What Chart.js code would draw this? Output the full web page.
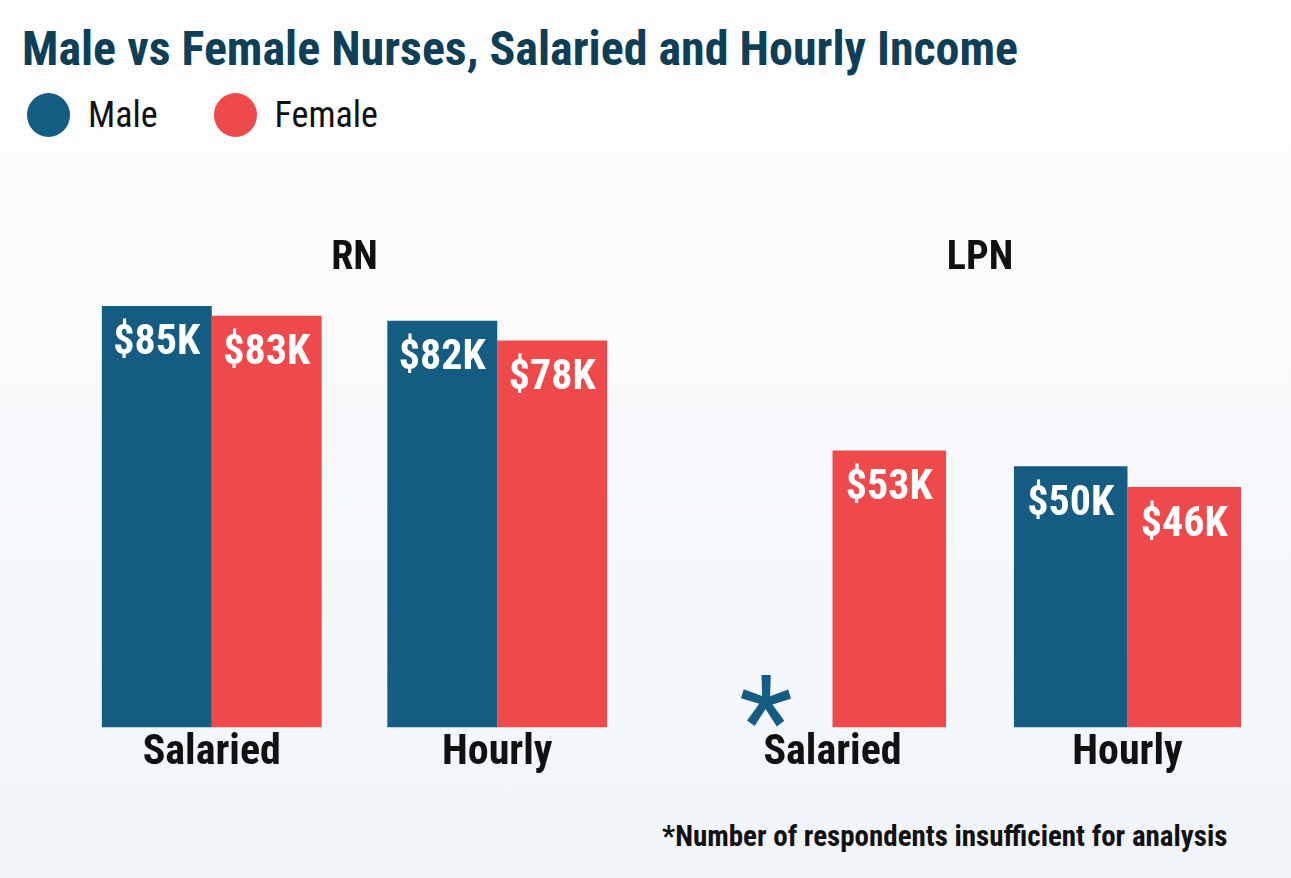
<!DOCTYPE html>
<html>
<head>
<meta charset="utf-8">
<script src="https://cdn.jsdelivr.net/npm/chart.js@4.4.1/dist/chart.umd.min.js"></script>
<style>
  html, body { margin: 0; padding: 0; }
  body {
    width: 1291px; height: 878px; position: relative; overflow: hidden;
    background: linear-gradient(#fefefe, #f1f5fa);
    font-family: "Roboto Condensed", "Liberation Sans Narrow", "DejaVu Sans Condensed", Roboto, sans-serif;
  }
  #title {
    position: absolute; left: 22px; top: 20px; margin: 0;
    font-size: 48px; font-weight: bold; color: #0f3f56; white-space: nowrap;
  }
  #legend { position: absolute; left: 27px; top: 93px; display: flex; }
  .item { display: flex; align-items: center; margin-right: 56px; font-size: 36px; color: #111; }
  .dot { width: 43px; height: 44px; border-radius: 50%; margin-right: 18px; }
  .panel { position: absolute; top: 223px; height: 557px; }
  #rn { left: 69px; width: 571px; }
  #lpn { left: 685px; width: 590px; }
  #note {
    position: absolute; left: 662px; top: 819px; font-size: 29px; font-weight: bold; color: #111; white-space: nowrap;
  }
</style>
</head>
<body>
<h1 id="title">Male vs Female Nurses, Salaried and Hourly Income</h1>
<div id="legend"></div>
<div class="panel" id="rn"><canvas id="rnChart"></canvas></div>
<div class="panel" id="lpn"><canvas id="lpnChart"></canvas></div>
<div id="note">*Number of respondents insufficient for analysis</div>

<script>
const FONT = '"Roboto Condensed", "Liberation Sans Narrow", "DejaVu Sans Condensed", Roboto, sans-serif';

// data
const categories = ['Salaried', 'Hourly'];
const seriesNames = ['Male', 'Female'];
const seriesColors = ['#145c81', '#ee4a4c'];
const rnMale = [85, 82];
const rnFemale = [83, 78];
const lpnMale = [null, 50];   // insufficient respondents
const lpnFemale = [53, 46];
const rnAxisMax = 88;
const lpnAxisMax = 83.5;

// legend
const legend = document.getElementById('legend');
seriesNames.forEach((name, i) => {
  const item = document.createElement('div');
  item.className = 'item';
  item.innerHTML = '<span class="dot" style="background:' + seriesColors[i] + '"></span>' + name;
  legend.appendChild(item);
});

const valueLabels = {
  id: 'valueLabels',
  afterDatasetsDraw(chart) {
    const ctx = chart.ctx;
    ctx.save();
    chart.data.datasets.forEach((ds, di) => {
      const meta = chart.getDatasetMeta(di);
      meta.data.forEach((bar, i) => {
        const v = ds.data[i];
        if (v === null) {
          // asterisk in place of missing bar
          ctx.font = '124px ' + FONT;
          ctx.fillStyle = seriesColors[di];
          const m = ctx.measureText('*');
          const w = m.actualBoundingBoxLeft + m.actualBoundingBoxRight;
          const h = m.actualBoundingBoxAscent + m.actualBoundingBoxDescent;
          const cx = bar.x - 10, cy = chart.chartArea.bottom - 27;
          ctx.textAlign = 'left';
          ctx.textBaseline = 'alphabetic';
          ctx.fillText('*', cx - w / 2 + m.actualBoundingBoxLeft, cy + h / 2 - m.actualBoundingBoxDescent);
          return;
        }
        ctx.font = 'bold 42px ' + FONT;
        ctx.fillStyle = '#ffffff';
        ctx.textAlign = 'center';
        ctx.textBaseline = 'middle';
        ctx.fillText('$' + v + 'K', bar.x, bar.y + 38);
      });
    });
    ctx.restore();
  }
};

function makeChart(id, group, male, female, yMax) {
  return new Chart(document.getElementById(id), {
    type: 'bar',
    data: {
      labels: categories,
      datasets: [
        { label: seriesNames[0], data: male, backgroundColor: seriesColors[0] },
        { label: seriesNames[1], data: female, backgroundColor: seriesColors[1] }
      ]
    },
    options: {
      responsive: true,
      maintainAspectRatio: false,
      animation: false,
      layout: { padding: 0 },
      datasets: { bar: { categoryPercentage: 0.77, barPercentage: 1.0 } },
      plugins: {
        legend: { display: false },
        tooltip: { enabled: false },
        title: {
          display: true, text: group, color: '#111',
          font: { family: FONT, size: 40, weight: 'bold' },
          padding: { top: 12, bottom: 8 }
        }
      },
      scales: {
        x: {
          grid: { display: false, drawTicks: false },
          border: { display: false },
          ticks: { color: '#111', padding: 1, font: { family: FONT, size: 42, weight: 'bold' } }
        },
        y: { display: false, min: 0, max: yMax }
      }
    },
    plugins: [valueLabels]
  });
}

makeChart('rnChart', 'RN', rnMale, rnFemale, rnAxisMax);
makeChart('lpnChart', 'LPN', lpnMale, lpnFemale, lpnAxisMax);
</script>
</body>
</html>
